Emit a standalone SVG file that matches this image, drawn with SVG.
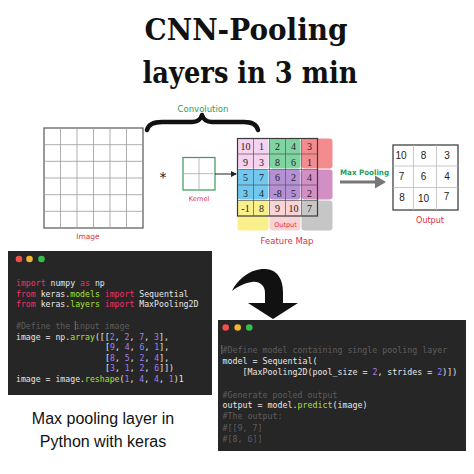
<svg xmlns="http://www.w3.org/2000/svg" width="474" height="474" viewBox="0 0 474 474">
<defs>
<style>
.title{font-family:"DejaVu Serif",serif;font-weight:bold;font-size:29px;fill:#111;text-anchor:middle}
.lbl{font-family:"DejaVu Sans","Liberation Sans",sans-serif;text-anchor:middle}
.red{fill:#e0303e}
.grn{fill:#22a060}
.fm{font-family:"Liberation Serif",serif;font-size:10px;fill:#222;text-anchor:middle}
.on{font-family:"Liberation Sans",sans-serif;font-size:10px;fill:#222;text-anchor:middle}
.code{font-family:"DejaVu Sans Mono",monospace;fill:#e6e6e6}
.k{fill:#f0306a}
.g{fill:#a6e22e}
.n{fill:#9d7ff0}
.c{fill:#5e5e5e}
.box{fill:#262626}
.grid{stroke:#9a9a9a;stroke-width:0.8;fill:none}
.cap{font-family:"Liberation Sans",Arial,sans-serif;font-size:16px;fill:#111;text-anchor:middle}
</style>
<marker id="ah" markerWidth="6" markerHeight="6" refX="5" refY="3" orient="auto" markerUnits="userSpaceOnUse">
<path d="M0,0 L6,3 L0,6 Z" fill="#222"/>
</marker>
</defs>
<rect width="474" height="474" fill="#ffffff"/>

<g id="title">
<text class="title" x="246" y="40" textLength="203" lengthAdjust="spacingAndGlyphs">CNN-Pooling</text>
<text class="title" x="250" y="83" textLength="215" lengthAdjust="spacingAndGlyphs">layers in 3 min</text>
</g>

<g id="image">
<rect x="44" y="128" width="99" height="100" fill="#fff" stroke="#555" stroke-width="1.2"/>
<path class="grid" d="M60.5,128V228M77,128V228M93.5,128V228M110,128V228M126.5,128V228M44,144.7H143M44,161.3H143M44,178H143M44,194.7H143M44,211.3H143"/>
<text class="lbl red" x="88" y="239" font-size="7.5">Image</text>
</g>

<g id="operator">
<text class="lbl" x="163" y="182" font-size="14" fill="#222">*</text>
</g>

<g id="kernel">
<rect x="183" y="157.5" width="32" height="32.5" fill="#fff" stroke="#3a9a5a" stroke-width="1.2"/>
<path d="M199,157.5V190M183,173.7H215" stroke="#aaa" stroke-width="0.8"/>
<text class="lbl red" x="199" y="201" font-size="6.5">Kernel</text>
</g>

<g id="feature-map">
<rect x="237.5" y="138.5" width="31" height="30" rx="3" fill="#f4d2f0"/>
<rect x="269.5" y="138.5" width="31" height="30" rx="3" fill="#7fd4a2"/>
<rect x="301.5" y="138.5" width="31" height="30" rx="3" fill="#f48b8e"/>
<rect x="237.5" y="169.5" width="31" height="30" rx="3" fill="#70c8ee"/>
<rect x="269.5" y="169.5" width="31" height="30" rx="3" fill="#b590d4"/>
<rect x="301.5" y="169.5" width="31" height="30" rx="3" fill="#d28fc4"/>
<rect x="237.5" y="200.5" width="31" height="30" rx="3" fill="#f9f08c"/>
<rect x="269.5" y="200.5" width="31" height="30" rx="3" fill="#f9d3d6"/>
<rect x="301.5" y="200.5" width="31" height="30" rx="3" fill="#c6c6c6"/>
<rect x="237.5" y="138.5" width="80" height="77.5" fill="none" stroke="#3a3a3a" stroke-width="1.2"/>
<path d="M253.5,138.5V216M269.5,138.5V216M285.5,138.5V216M301.5,138.5V216M237.5,154H317.5M237.5,169.5H317.5M237.5,185H317.5M237.5,200.5H317.5" stroke="#555" stroke-width="0.7" fill="none"/>
<text class="fm" x="245.5" y="150">10</text><text class="fm" x="261.5" y="150">1</text><text class="fm" x="277.5" y="150">2</text><text class="fm" x="293.5" y="150">4</text><text class="fm" x="309.5" y="150">3</text>
<text class="fm" x="245.5" y="165.5">9</text><text class="fm" x="261.5" y="165.5">3</text><text class="fm" x="277.5" y="165.5">8</text><text class="fm" x="293.5" y="165.5">6</text><text class="fm" x="309.5" y="165.5">1</text>
<text class="fm" x="245.5" y="181">5</text><text class="fm" x="261.5" y="181">7</text><text class="fm" x="277.5" y="181">6</text><text class="fm" x="293.5" y="181">2</text><text class="fm" x="309.5" y="181">4</text>
<text class="fm" x="245.5" y="196.5">3</text><text class="fm" x="261.5" y="196.5">4</text><text class="fm" x="277.5" y="196.5">-8</text><text class="fm" x="293.5" y="196.5">5</text><text class="fm" x="309.5" y="196.5">2</text>
<text class="fm" x="245.5" y="212">-1</text><text class="fm" x="261.5" y="212">8</text><text class="fm" x="277.5" y="212">9</text><text class="fm" x="293.5" y="212">10</text><text class="fm" x="309.5" y="212">7</text>
<text class="lbl red" x="285.5" y="227" font-size="6.5">Output</text>
<text class="lbl red" x="287" y="243.5" font-size="8.5">Feature Map</text>
</g>

<g id="output">
<rect x="393" y="145" width="65" height="65" fill="#fff" stroke="#333" stroke-width="1.2"/>
<path d="M413.5,145V210M436.5,145V210M393,166H458M393,187.5H458" stroke="#bbb" stroke-width="0.8"/>
<text class="on" x="401" y="159">10</text><text class="on" x="423.5" y="159">8</text><text class="on" x="447" y="159">3</text>
<text class="on" x="401.5" y="180">7</text><text class="on" x="423.5" y="180">6</text><text class="on" x="447" y="180">4</text>
<text class="on" x="402" y="201">8</text><text class="on" x="423.5" y="202">10</text><text class="on" x="446.5" y="200">7</text>
<text class="lbl red" x="430" y="223" font-size="8">Output</text>
</g>

<g id="code1">
<rect class="box" x="8" y="251" width="204" height="144"/>
<circle cx="19" cy="259" r="3.3" fill="#f0504a"/>
<circle cx="29.5" cy="259" r="3.3" fill="#f2b32e"/>
<circle cx="41.5" cy="259" r="3.3" fill="#34c048"/>
<text class="code" font-size="8.2" xml:space="preserve"><tspan x="16" y="286"><tspan class="k">import</tspan> numpy <tspan class="k">as</tspan> np</tspan><tspan x="16" y="296.5"><tspan class="k">from</tspan> keras.<tspan class="g">models</tspan> <tspan class="k">import</tspan> Sequential</tspan><tspan x="16" y="307"><tspan class="k">from</tspan> keras.<tspan class="g">layers</tspan> <tspan class="k">import</tspan> MaxPooling2D</tspan><tspan x="16" y="329" class="c">#Define the input image</tspan><tspan x="16" y="339.5">image = np.<tspan class="g">array</tspan>([[<tspan class="n">2</tspan>, <tspan class="n">2</tspan>, <tspan class="n">7</tspan>, <tspan class="n">3</tspan>],</tspan><tspan x="105" y="350">[<tspan class="n">9</tspan>, <tspan class="n">4</tspan>, <tspan class="n">6</tspan>, <tspan class="n">1</tspan>],</tspan><tspan x="105" y="360.5">[<tspan class="n">8</tspan>, <tspan class="n">5</tspan>, <tspan class="n">2</tspan>, <tspan class="n">4</tspan>],</tspan><tspan x="105" y="371">[<tspan class="n">3</tspan>, <tspan class="n">1</tspan>, <tspan class="n">2</tspan>, <tspan class="n">6</tspan>]])</tspan><tspan x="16" y="381.5">image = image.<tspan class="g">reshape</tspan>(<tspan class="n">1</tspan>, <tspan class="n">4</tspan>, <tspan class="n">4</tspan>, <tspan class="n">1</tspan>)1</tspan></text>
<line x1="75.3" y1="321" x2="75.3" y2="330" stroke="#8a8a8a" stroke-width="0.8"/>
</g>

<g id="code2">
<rect class="box" x="218" y="320" width="248" height="131"/>
<circle cx="225.7" cy="327.5" r="3.3" fill="#f0504a"/>
<circle cx="237.7" cy="327.5" r="3.3" fill="#f2b32e"/>
<circle cx="249.3" cy="327.5" r="3.3" fill="#34c048"/>
<text class="code" font-size="8.3" xml:space="preserve"><tspan x="222.5" y="352.5" class="c">#Define model containing single pooling layer</tspan><tspan x="222.5" y="364">model = Sequential(</tspan><tspan x="242.5" y="375">[MaxPooling2D(pool_size = <tspan class="n">2</tspan>, strides = <tspan class="n">2</tspan>)])</tspan><tspan x="222.5" y="397.5" class="c">#Generate pooled output</tspan><tspan x="222.5" y="408">output = model.<tspan class="g">predict</tspan>(image)</tspan><tspan x="222.5" y="419" class="c">#The output:</tspan><tspan x="222.5" y="430.5" class="c">#[[9, 7]</tspan><tspan x="222.5" y="441.5" class="c">#[8, 6]]</tspan></text>
<line x1="221.8" y1="345" x2="221.8" y2="354" stroke="#8a8a8a" stroke-width="0.8"/>
</g>

<g id="caption">
<text class="cap" x="103" y="424">Max pooling layer in</text>
<text class="cap" x="103" y="447">Python with keras</text>
</g>

<g id="connectors">
<path d="M147,130 Q149,122 162,122 L192,122 Q200,122 202,115 Q204,122 212,122 L244,122 Q256,122 258,130" fill="none" stroke="#111" stroke-width="4.5" stroke-linecap="round" stroke-linejoin="round"/>
<text class="lbl grn" x="203" y="112" font-size="8.5">Convolution</text>
<line x1="215" y1="174" x2="236" y2="174" stroke="#222" stroke-width="1" marker-end="url(#ah)"/>
<line x1="340" y1="182" x2="376" y2="182" stroke="#777" stroke-width="3"/>
<path d="M375,175.5 L386,182 L375,188.5 Z" fill="#777"/>
<text class="lbl grn" x="364.5" y="175" font-size="7.5" font-weight="bold" textLength="49" lengthAdjust="spacingAndGlyphs">Max Pooling</text>
<path d="M232,291 C238,278 252,268 266,269 C278,270 283,280 283,292 L283,303 L298,303 L273,319 L248,303 L265,303 L265,293 C265,285 259,281 252,282 C244,283 237,287 232,291 Z" fill="#111"/>
</g>
</svg>
